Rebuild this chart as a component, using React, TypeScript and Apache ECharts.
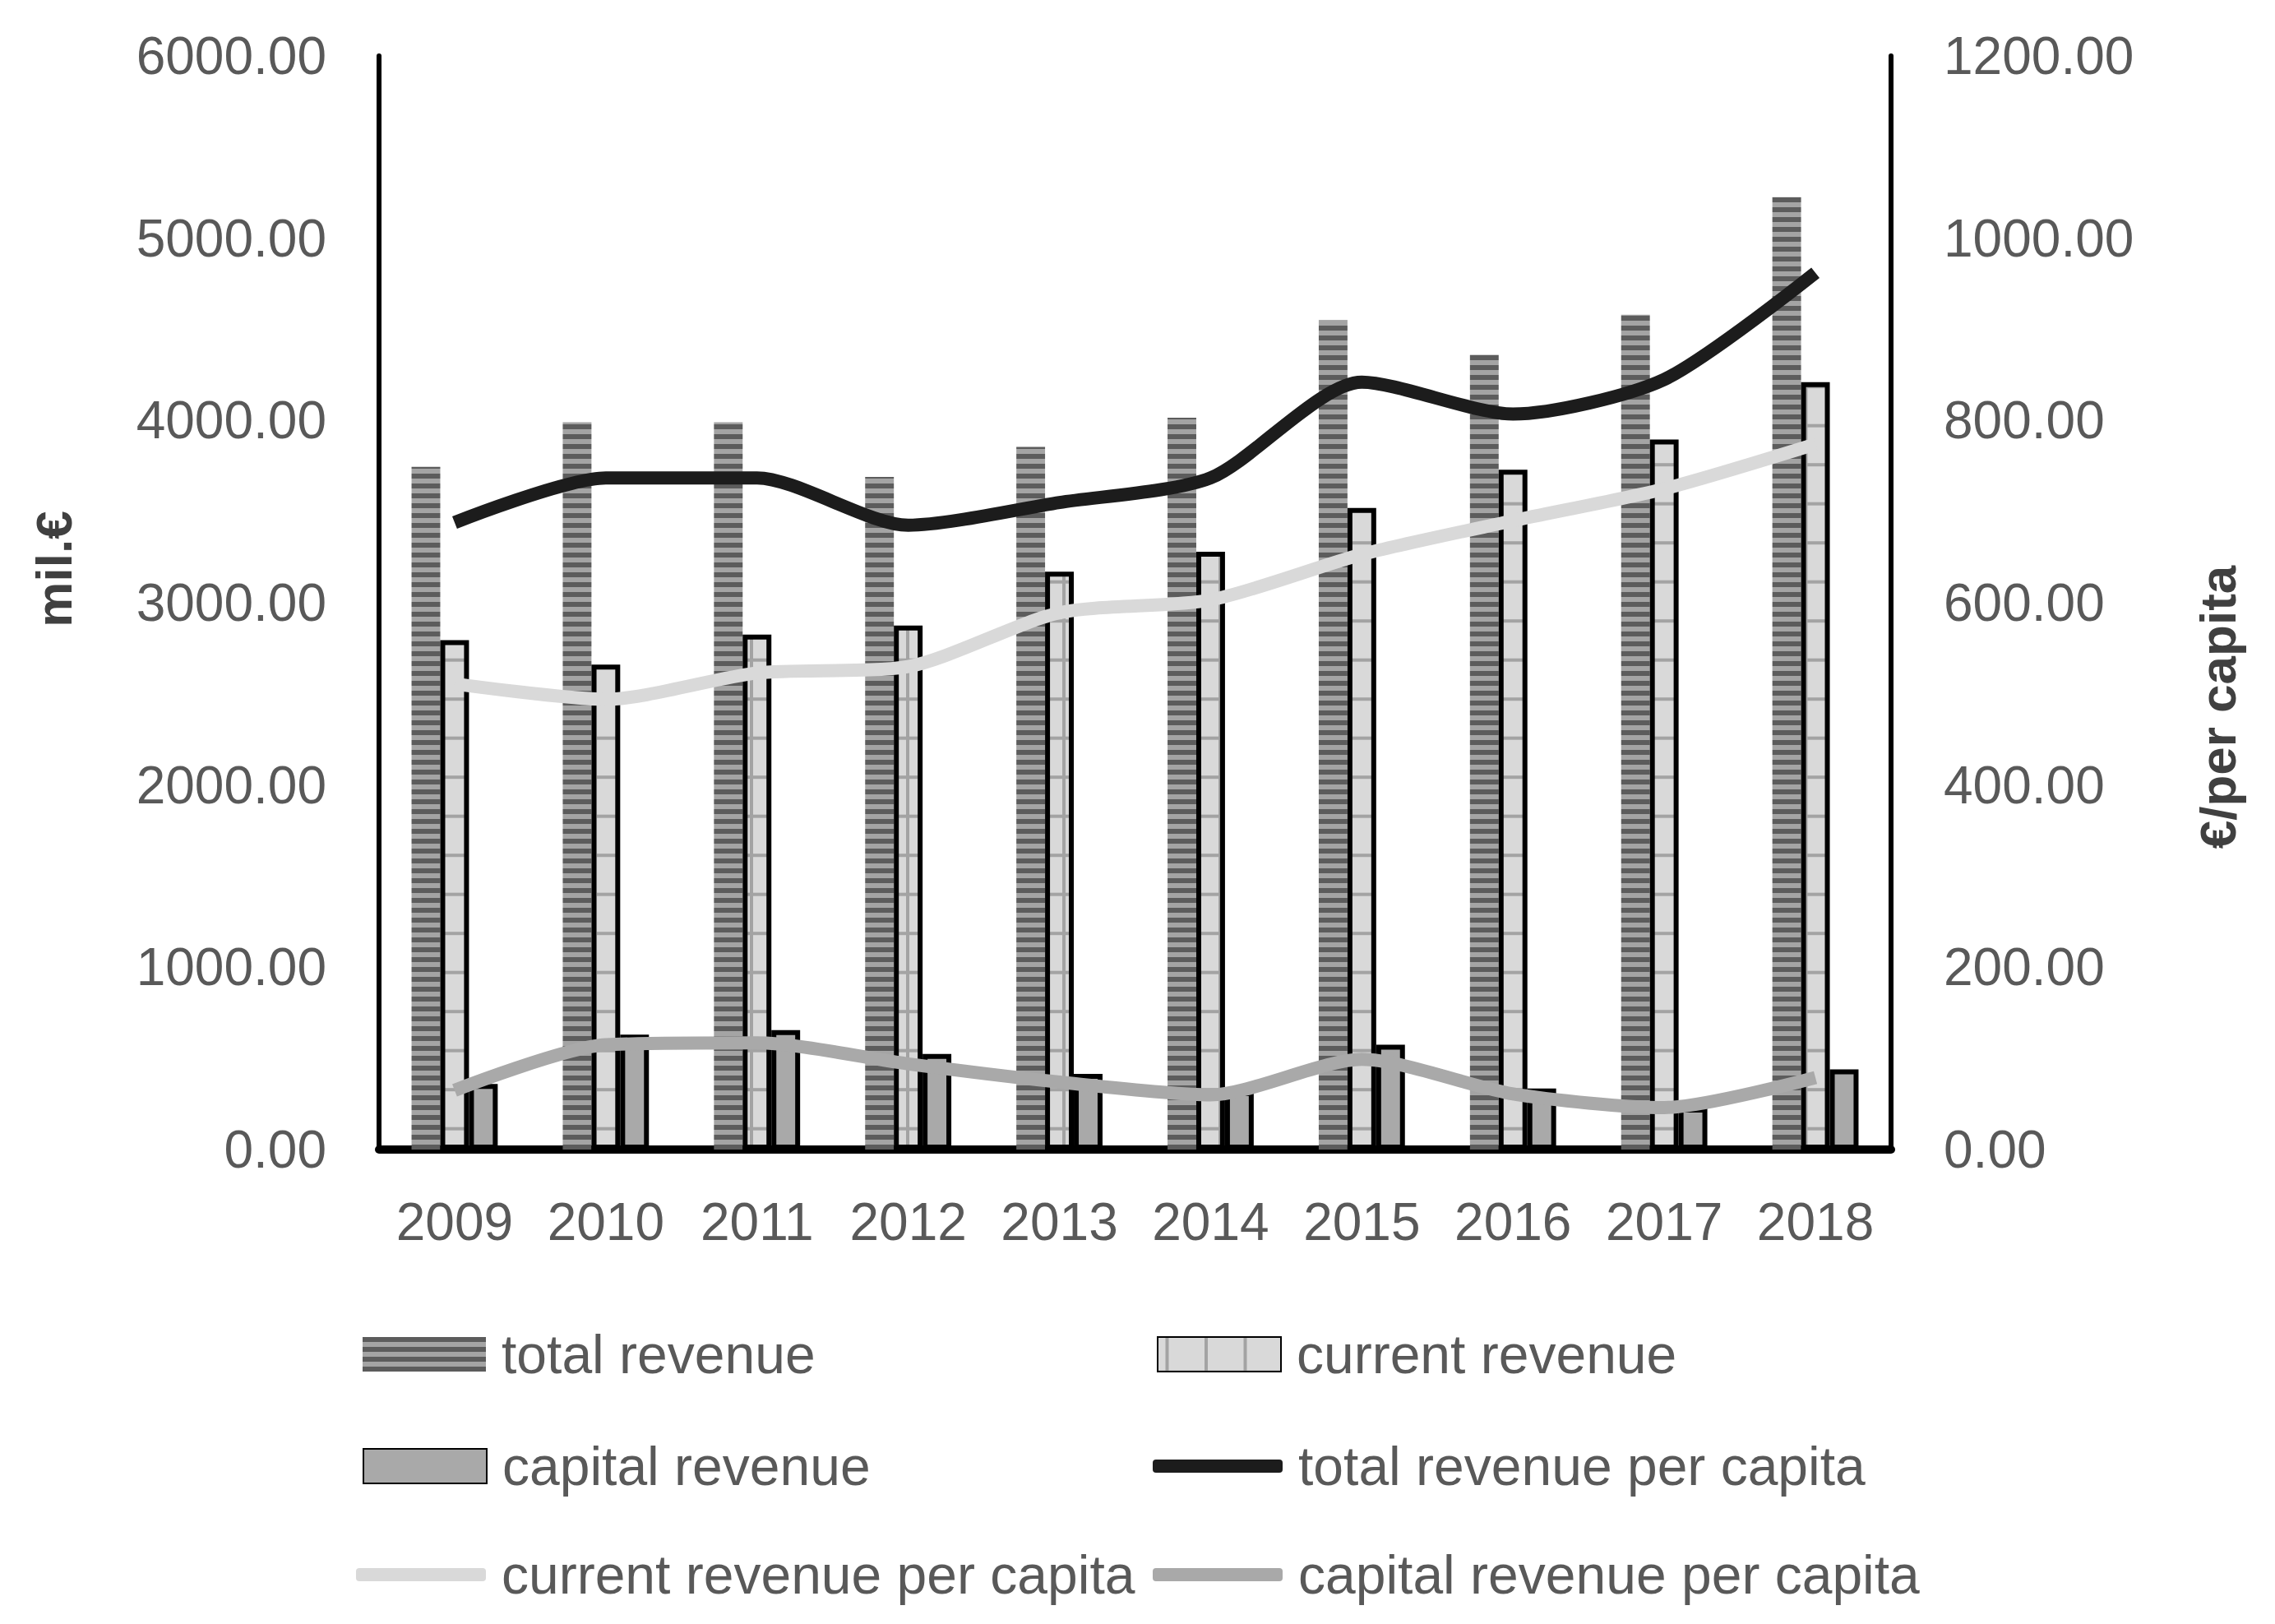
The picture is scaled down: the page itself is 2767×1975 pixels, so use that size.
import React, { useEffect, useRef } from "react";
import * as echarts from "echarts";

const years = ["2009", "2010", "2011", "2012", "2013", "2014", "2015", "2016", "2017", "2018"];
const totalRevenue = [3745, 3990, 3990, 3690, 3855, 4015, 4550, 4360, 4580, 5225];
const currentRevenue = [2795, 2660, 2825, 2875, 3170, 3280, 3520, 3730, 3895, 4210];
const capitalRevenue = [360, 630, 655, 525, 415, 320, 575, 335, 230, 440];
const totalPerCapita = [688, 737, 737, 685, 710, 737, 842, 807, 845, 962];
const currentPerCapita = [511, 494, 523, 530, 589, 603, 653, 690, 725, 774];
const capitalPerCapita = [65, 115, 117, 94, 74, 60, 99, 61, 46, 79];
const leftTicks = { min: 0, max: 6000, interval: 1000 };
const rightTicks = { min: 0, max: 1200, interval: 200 };

const FONT = '"Liberation Sans", Arial, sans-serif';
const GRAY_TEXT = "#595959";

function stripePattern() {
  const c = document.createElement("canvas");
  c.width = 12;
  c.height = 12;
  const g = c.getContext("2d")!;
  g.fillStyle = "#a4a4a4";
  g.fillRect(0, 0, 12, 12);
  g.fillStyle = "#5c5c5c";
  g.fillRect(0, 0, 12, 6);
  return { image: c.toDataURL(), repeat: "repeat", imageWidth: 12, imageHeight: 12 };
}

function gridPattern() {
  const c = document.createElement("canvas");
  c.width = 95;
  c.height = 95;
  const g = c.getContext("2d")!;
  g.fillStyle = "#d9d9d9";
  g.fillRect(0, 0, 95, 95);
  g.fillStyle = "#a3a3a3";
  g.fillRect(9.5, 0, 4, 95);
  g.fillRect(57, 0, 4, 95);
  g.fillRect(0, 40.7, 95, 4);
  g.fillRect(0, 88.2, 95, 4);
  return { image: c.toDataURL(), repeat: "repeat", imageWidth: 95, imageHeight: 95 };
}

export default function App() {
  const ref = useRef<HTMLDivElement>(null);

  useEffect(() => {
    if (!ref.current) return;
    const chart = echarts.init(ref.current, undefined, { renderer: "svg" });

    const legendBase = {
      padding: 0,
      itemGap: 0,
      selectedMode: false,
      textStyle: {
        color: GRAY_TEXT,
        fontSize: 66,
        fontFamily: FONT,
        lineHeight: 70,
        padding: [0, 0, 0, 14],
      },
    };
    const barLegend = (name: string, left: number, top: number) => ({
      ...legendBase,
      data: [name],
      left,
      top,
      icon: "rect",
      itemWidth: 150,
      itemHeight: 42,
    });
    const lineLegend = (name: string, left: number, top: number) => ({
      ...legendBase,
      data: [name],
      left,
      top,
      icon: "roundRect",
      itemWidth: 158,
      itemHeight: 16,
    });

    const axisLabel = {
      color: GRAY_TEXT,
      fontSize: 64,
      fontFamily: FONT,
    };

    chart.setOption({
      animation: false,
      backgroundColor: "#ffffff",
      grid: { left: 461, top: 68, width: 1839, height: 1330, containLabel: false },
      legend: [
        barLegend("total revenue", 441, 1612),
        barLegend("current revenue", 1407, 1612),
        barLegend("capital revenue", 441, 1748),
        lineLegend("total revenue per capita", 1402, 1748),
        lineLegend("current revenue per capita", 433, 1880),
        lineLegend("capital revenue per capita", 1402, 1880),
      ],
      xAxis: {
        type: "category",
        data: years,
        boundaryGap: true,
        axisLine: { show: true, lineStyle: { color: "#000000", width: 10 } },
        axisTick: { show: false },
        axisLabel: { ...axisLabel, margin: 56, interval: 0 },
        splitLine: { show: false },
      },
      yAxis: [
        {
          type: "value",
          ...leftTicks,
          position: "left",
          axisLine: { show: true, lineStyle: { color: "#000000", width: 6 } },
          axisTick: { show: false },
          splitLine: { show: false },
          axisLabel: { ...axisLabel, margin: 64, formatter: (v: number) => v.toFixed(2) },
        },
        {
          type: "value",
          ...rightTicks,
          position: "right",
          axisLine: { show: true, lineStyle: { color: "#000000", width: 6 } },
          axisTick: { show: false },
          splitLine: { show: false },
          axisLabel: { ...axisLabel, margin: 64, formatter: (v: number) => v.toFixed(2) },
        },
      ],
      graphic: [
        {
          type: "text",
          x: 65,
          y: 692,
          rotation: Math.PI / 2,
          style: {
            text: "mil.€",
            fontSize: 62,
            fontWeight: "bold",
            fontFamily: FONT,
            fill: "#404040",
            align: "center",
            verticalAlign: "middle",
            textAlign: "center",
            textVerticalAlign: "middle",
          },
        },
        {
          type: "text",
          x: 2697,
          y: 860,
          rotation: Math.PI / 2,
          style: {
            text: "€/per capita",
            fontSize: 62,
            fontWeight: "bold",
            fontFamily: FONT,
            fill: "#404040",
            align: "center",
            verticalAlign: "middle",
            textAlign: "center",
            textVerticalAlign: "middle",
          },
        },
      ],
      series: [
        {
          name: "total revenue",
          type: "bar",
          yAxisIndex: 0,
          data: totalRevenue,
          barGap: "0%",
          barCategoryGap: "43%",
          itemStyle: { color: stripePattern(), borderWidth: 0 },
        },
        {
          name: "current revenue",
          type: "bar",
          yAxisIndex: 0,
          data: currentRevenue,
          barGap: "0%",
          barCategoryGap: "43%",
          itemStyle: { color: gridPattern(), borderColor: "#000000", borderWidth: 6 },
        },
        {
          name: "capital revenue",
          type: "bar",
          yAxisIndex: 0,
          data: capitalRevenue,
          barGap: "0%",
          barCategoryGap: "43%",
          itemStyle: { color: "#a9a9a9", borderColor: "#000000", borderWidth: 6 },
        },
        {
          name: "total revenue per capita",
          type: "line",
          yAxisIndex: 1,
          data: totalPerCapita,
          smooth: 0.25,
          symbol: "none",
          color: "#1c1c1c",
          itemStyle: { color: "#1c1c1c" },
          lineStyle: { color: "#1c1c1c", width: 16 },
        },
        {
          name: "current revenue per capita",
          type: "line",
          yAxisIndex: 1,
          data: currentPerCapita,
          smooth: 0.25,
          symbol: "none",
          color: "#d9d9d9",
          itemStyle: { color: "#d9d9d9" },
          lineStyle: { color: "#d9d9d9", width: 16 },
        },
        {
          name: "capital revenue per capita",
          type: "line",
          yAxisIndex: 1,
          data: capitalPerCapita,
          smooth: 0.25,
          symbol: "none",
          color: "#a9a9a9",
          itemStyle: { color: "#a9a9a9" },
          lineStyle: { color: "#a9a9a9", width: 16 },
        },
      ],
    });

    return () => {
      chart.dispose();
    };
  }, []);

  return (
    <div
      ref={ref}
      style={{ position: "fixed", left: 0, top: 0, width: 2767, height: 1975, background: "#ffffff" }}
    />
  );
}
